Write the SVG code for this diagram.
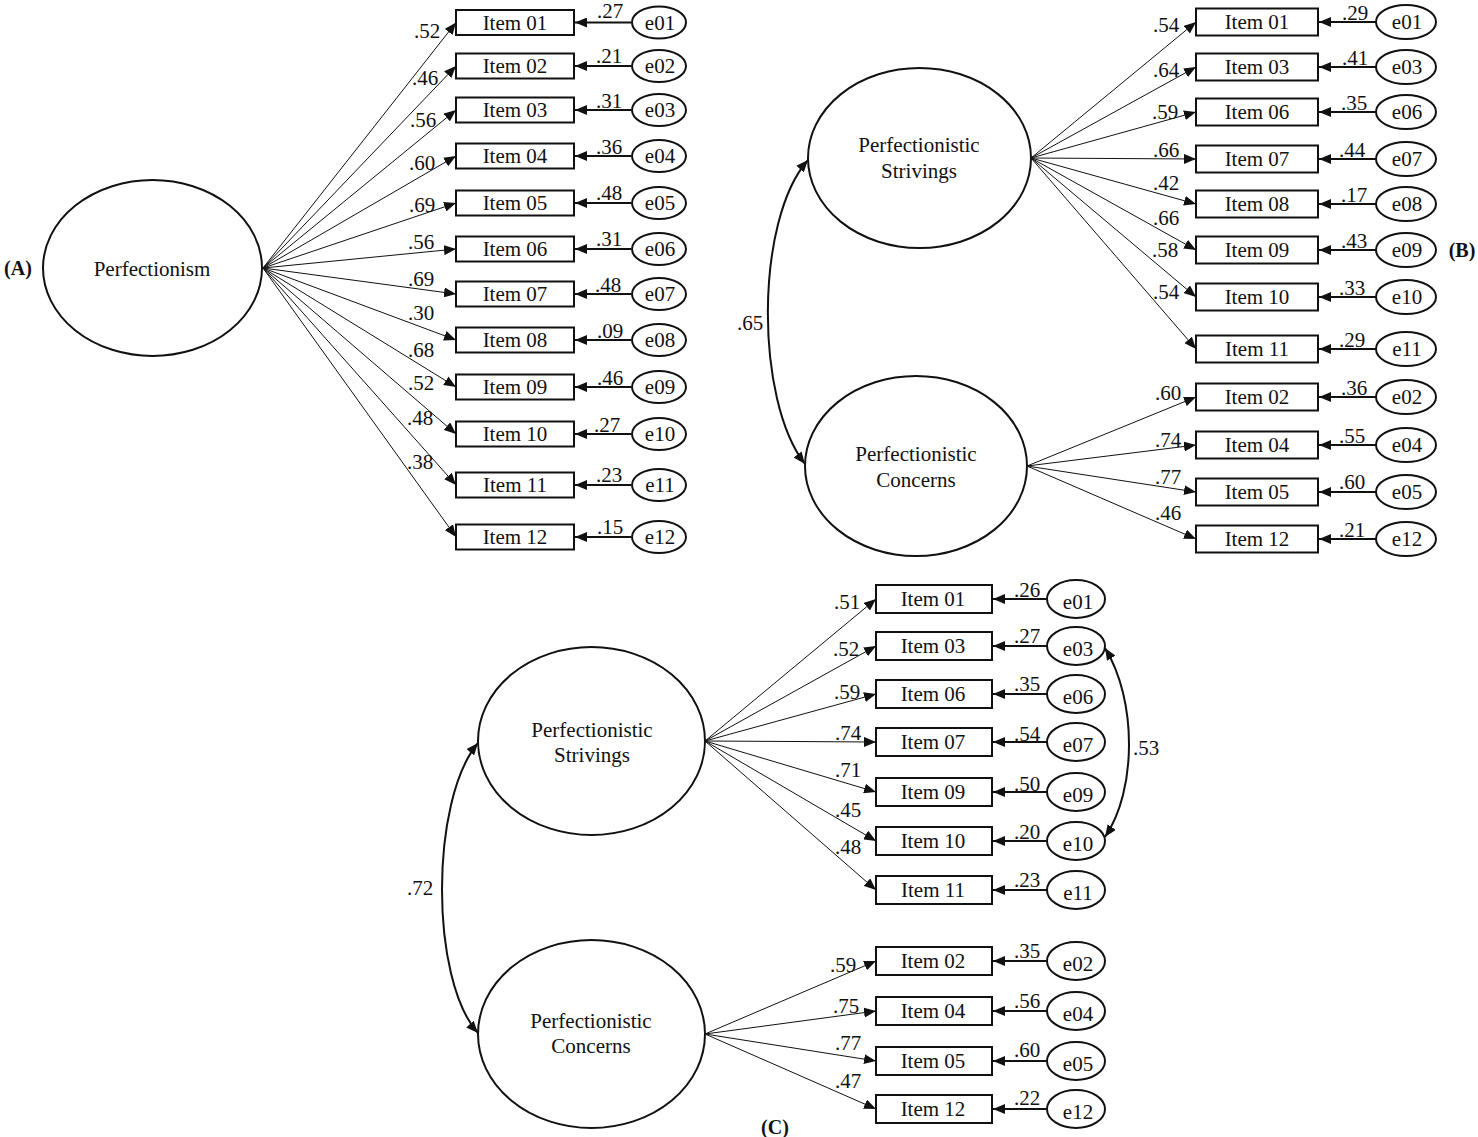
<svg xmlns="http://www.w3.org/2000/svg" width="1478" height="1137" viewBox="0 0 1478 1137">
<style>
text{font-family:"Liberation Serif","Times New Roman",serif;font-size:21px;fill:#111;text-anchor:middle}
.b{font-weight:bold;font-size:20px}
.lat,.err{fill:#fff;stroke:#111;stroke-width:2}
.box{fill:#fff;stroke:#111;stroke-width:2}
.ld{stroke:#111;stroke-width:1;fill:none;marker-end:url(#ah)}
.ea{stroke:#111;stroke-width:2;fill:none;marker-end:url(#ah)}
.cov{stroke:#111;stroke-width:2;fill:none;marker-end:url(#ah);marker-start:url(#ah)}
</style>
<defs>
<marker id="ah" markerUnits="userSpaceOnUse" markerWidth="12" markerHeight="10" refX="12" refY="5" orient="auto-start-reverse"><path d="M0,0 L12,5 L0,10 z" fill="#111"/></marker>
</defs>
<rect width="1478" height="1137" fill="#fff"/>

<g id="connectors">
<!-- Panel A loadings -->
<line class="ld" x1="263" y1="268" x2="456" y2="22.5"/>
<line class="ld" x1="263" y1="268" x2="456" y2="66"/>
<line class="ld" x1="263" y1="268" x2="456" y2="110"/>
<line class="ld" x1="263" y1="268" x2="456" y2="156"/>
<line class="ld" x1="263" y1="268" x2="456" y2="203"/>
<line class="ld" x1="263" y1="268" x2="456" y2="249"/>
<line class="ld" x1="263" y1="268" x2="456" y2="294"/>
<line class="ld" x1="263" y1="268" x2="456" y2="340"/>
<line class="ld" x1="263" y1="268" x2="456" y2="387"/>
<line class="ld" x1="263" y1="268" x2="456" y2="434"/>
<line class="ld" x1="263" y1="268" x2="456" y2="485"/>
<line class="ld" x1="263" y1="268" x2="456" y2="537"/>
<!-- Panel A errors -->
<line class="ea" x1="631" y1="22.5" x2="575" y2="22.5"/>
<line class="ea" x1="631" y1="66" x2="575" y2="66"/>
<line class="ea" x1="631" y1="110" x2="575" y2="110"/>
<line class="ea" x1="631" y1="156" x2="575" y2="156"/>
<line class="ea" x1="631" y1="203" x2="575" y2="203"/>
<line class="ea" x1="631" y1="249" x2="575" y2="249"/>
<line class="ea" x1="631" y1="294" x2="575" y2="294"/>
<line class="ea" x1="631" y1="340" x2="575" y2="340"/>
<line class="ea" x1="631" y1="387" x2="575" y2="387"/>
<line class="ea" x1="631" y1="434" x2="575" y2="434"/>
<line class="ea" x1="631" y1="485" x2="575" y2="485"/>
<line class="ea" x1="631" y1="537" x2="575" y2="537"/>
<!-- Panel B loadings -->
<line class="ld" x1="1031" y1="158" x2="1196" y2="22"/>
<line class="ld" x1="1031" y1="158" x2="1196" y2="67"/>
<line class="ld" x1="1031" y1="158" x2="1196" y2="112"/>
<line class="ld" x1="1031" y1="158" x2="1196" y2="159"/>
<line class="ld" x1="1031" y1="158" x2="1196" y2="204"/>
<line class="ld" x1="1031" y1="158" x2="1196" y2="250"/>
<line class="ld" x1="1031" y1="158" x2="1196" y2="297"/>
<line class="ld" x1="1031" y1="158" x2="1196" y2="349"/>
<line class="ld" x1="1027" y1="466" x2="1196" y2="397"/>
<line class="ld" x1="1027" y1="466" x2="1196" y2="445"/>
<line class="ld" x1="1027" y1="466" x2="1196" y2="492"/>
<line class="ld" x1="1027" y1="466" x2="1196" y2="539"/>
<!-- Panel B errors -->
<line class="ea" x1="1376" y1="22" x2="1319" y2="22"/>
<line class="ea" x1="1376" y1="67" x2="1319" y2="67"/>
<line class="ea" x1="1376" y1="112" x2="1319" y2="112"/>
<line class="ea" x1="1376" y1="159" x2="1319" y2="159"/>
<line class="ea" x1="1376" y1="204" x2="1319" y2="204"/>
<line class="ea" x1="1376" y1="250" x2="1319" y2="250"/>
<line class="ea" x1="1376" y1="297" x2="1319" y2="297"/>
<line class="ea" x1="1376" y1="349" x2="1319" y2="349"/>
<line class="ea" x1="1376" y1="397" x2="1319" y2="397"/>
<line class="ea" x1="1376" y1="445" x2="1319" y2="445"/>
<line class="ea" x1="1376" y1="492" x2="1319" y2="492"/>
<line class="ea" x1="1376" y1="539" x2="1319" y2="539"/>
<path class="cov" d="M808,160 C755,220 755,400 805,464"/>
<!-- Panel C loadings -->
<line class="ld" x1="705" y1="741" x2="876" y2="599"/>
<line class="ld" x1="705" y1="741" x2="876" y2="646"/>
<line class="ld" x1="705" y1="741" x2="876" y2="694"/>
<line class="ld" x1="705" y1="741" x2="876" y2="742"/>
<line class="ld" x1="705" y1="741" x2="876" y2="792"/>
<line class="ld" x1="705" y1="741" x2="876" y2="841"/>
<line class="ld" x1="705" y1="741" x2="876" y2="890"/>
<line class="ld" x1="705" y1="1034" x2="876" y2="961"/>
<line class="ld" x1="705" y1="1034" x2="876" y2="1011"/>
<line class="ld" x1="705" y1="1034" x2="876" y2="1061"/>
<line class="ld" x1="705" y1="1034" x2="876" y2="1109"/>
<!-- Panel C errors -->
<line class="ea" x1="1047" y1="599" x2="993" y2="599"/>
<line class="ea" x1="1047" y1="646" x2="993" y2="646"/>
<line class="ea" x1="1047" y1="694" x2="993" y2="694"/>
<line class="ea" x1="1047" y1="742" x2="993" y2="742"/>
<line class="ea" x1="1047" y1="792" x2="993" y2="792"/>
<line class="ea" x1="1047" y1="841" x2="993" y2="841"/>
<line class="ea" x1="1047" y1="890" x2="993" y2="890"/>
<line class="ea" x1="1047" y1="961" x2="993" y2="961"/>
<line class="ea" x1="1047" y1="1011" x2="993" y2="1011"/>
<line class="ea" x1="1047" y1="1061" x2="993" y2="1061"/>
<line class="ea" x1="1047" y1="1109" x2="993" y2="1109"/>
<path class="cov" d="M478,743 C430,800 430,980 478,1033"/>
<path class="cov" d="M1105,648 C1137,700 1137,790 1105,837"/>
</g>

<g id="edge-labels">
<text x="427" y="38">.52</text><text x="425" y="85">.46</text><text x="423" y="127">.56</text><text x="422" y="170">.60</text>
<text x="422" y="212">.69</text><text x="421" y="249">.56</text><text x="421" y="286">.69</text><text x="421" y="320">.30</text>
<text x="421" y="357">.68</text><text x="421" y="390">.52</text><text x="420" y="425">.48</text><text x="420" y="469">.38</text>
<text x="610" y="18">.27</text><text x="609" y="63">.21</text><text x="609" y="108">.31</text><text x="609" y="154">.36</text>
<text x="609" y="200">.48</text><text x="609" y="246">.31</text><text x="608" y="292">.48</text><text x="610" y="338">.09</text>
<text x="610" y="385">.46</text><text x="607" y="432">.27</text><text x="609" y="482">.23</text><text x="610" y="534">.15</text>

<text x="1166" y="32">.54</text><text x="1166" y="77">.64</text><text x="1165" y="119">.59</text><text x="1166" y="157">.66</text>
<text x="1166" y="190">.42</text><text x="1166" y="225">.66</text><text x="1165" y="257">.58</text><text x="1166" y="299">.54</text>
<text x="1168" y="400">.60</text><text x="1168" y="447">.74</text><text x="1168" y="484">.77</text><text x="1168" y="520">.46</text>
<text x="1355" y="20">.29</text><text x="1355" y="65">.41</text><text x="1354" y="110">.35</text><text x="1352" y="157">.44</text>
<text x="1354" y="202">.17</text><text x="1354" y="248">.43</text><text x="1352" y="295">.33</text><text x="1352" y="347">.29</text>
<text x="1354" y="395">.36</text><text x="1352" y="443">.55</text><text x="1352" y="489">.60</text><text x="1352" y="537">.21</text>
<text x="750" y="330">.65</text>

<text x="847" y="609">.51</text><text x="846" y="656">.52</text><text x="847" y="699">.59</text><text x="848" y="740">.74</text>
<text x="848" y="777">.71</text><text x="848" y="817">.45</text><text x="848" y="854">.48</text>
<text x="843" y="972">.59</text><text x="846" y="1013">.75</text><text x="848" y="1050">.77</text><text x="848" y="1088">.47</text>
<text x="1027" y="597">.26</text><text x="1027" y="643">.27</text><text x="1027" y="691">.35</text><text x="1027" y="741">.54</text>
<text x="1027" y="791">.50</text><text x="1027" y="839">.20</text><text x="1027" y="887">.23</text>
<text x="1027" y="958">.35</text><text x="1027" y="1008">.56</text><text x="1027" y="1057">.60</text><text x="1027" y="1105">.22</text>
<text x="420" y="895">.72</text>
<text x="1146" y="755">.53</text>
</g>

<g id="panel-labels">
<text class="b" x="18" y="275">(A)</text>
<text class="b" x="1462" y="257">(B)</text>
<text class="b" x="775" y="1134">(C)</text>
</g>

<!-- Panel A nodes -->
<g id="A-perfectionism"><ellipse class="lat" cx="152.5" cy="268" rx="109.5" ry="88"/><text x="152" y="276">Perfectionism</text></g>
<g id="A-item01"><rect class="box" x="456" y="10" width="118" height="25"/><text x="515" y="30">Item 01</text></g>
<g id="A-item02"><rect class="box" x="456" y="53.5" width="118" height="25"/><text x="515" y="73">Item 02</text></g>
<g id="A-item03"><rect class="box" x="456" y="97.5" width="118" height="25"/><text x="515" y="117">Item 03</text></g>
<g id="A-item04"><rect class="box" x="456" y="143.5" width="118" height="25"/><text x="515" y="163">Item 04</text></g>
<g id="A-item05"><rect class="box" x="456" y="190.5" width="118" height="25"/><text x="515" y="210">Item 05</text></g>
<g id="A-item06"><rect class="box" x="456" y="236.5" width="118" height="25"/><text x="515" y="256">Item 06</text></g>
<g id="A-item07"><rect class="box" x="456" y="281.5" width="118" height="25"/><text x="515" y="301">Item 07</text></g>
<g id="A-item08"><rect class="box" x="456" y="327.5" width="118" height="25"/><text x="515" y="347">Item 08</text></g>
<g id="A-item09"><rect class="box" x="456" y="374.5" width="118" height="25"/><text x="515" y="394">Item 09</text></g>
<g id="A-item10"><rect class="box" x="456" y="421.5" width="118" height="25"/><text x="515" y="441">Item 10</text></g>
<g id="A-item11"><rect class="box" x="456" y="472.5" width="118" height="25"/><text x="515" y="492">Item 11</text></g>
<g id="A-item12"><rect class="box" x="456" y="524.5" width="118" height="25"/><text x="515" y="544">Item 12</text></g>
<g id="A-e01"><ellipse class="err" cx="659" cy="22.5" rx="27" ry="16"/><text x="660" y="30">e01</text></g>
<g id="A-e02"><ellipse class="err" cx="659" cy="66" rx="27" ry="16"/><text x="660" y="73">e02</text></g>
<g id="A-e03"><ellipse class="err" cx="659" cy="110" rx="27" ry="16"/><text x="660" y="117">e03</text></g>
<g id="A-e04"><ellipse class="err" cx="659" cy="156" rx="27" ry="16"/><text x="660" y="163">e04</text></g>
<g id="A-e05"><ellipse class="err" cx="659" cy="203" rx="27" ry="16"/><text x="660" y="210">e05</text></g>
<g id="A-e06"><ellipse class="err" cx="659" cy="249" rx="27" ry="16"/><text x="660" y="256">e06</text></g>
<g id="A-e07"><ellipse class="err" cx="659" cy="294" rx="27" ry="16"/><text x="660" y="301">e07</text></g>
<g id="A-e08"><ellipse class="err" cx="659" cy="340" rx="27" ry="16"/><text x="660" y="347">e08</text></g>
<g id="A-e09"><ellipse class="err" cx="659" cy="387" rx="27" ry="16"/><text x="660" y="394">e09</text></g>
<g id="A-e10"><ellipse class="err" cx="659" cy="434" rx="27" ry="16"/><text x="660" y="441">e10</text></g>
<g id="A-e11"><ellipse class="err" cx="659" cy="485" rx="27" ry="16"/><text x="660" y="492">e11</text></g>
<g id="A-e12"><ellipse class="err" cx="659" cy="537" rx="27" ry="16"/><text x="660" y="544">e12</text></g>

<!-- Panel B nodes -->
<g id="B-strivings"><ellipse class="lat" cx="919.5" cy="158" rx="111.5" ry="90"/><text x="919" y="152">Perfectionistic</text><text x="919" y="178">Strivings</text></g>
<g id="B-concerns"><ellipse class="lat" cx="916" cy="466" rx="111" ry="90"/><text x="916" y="461">Perfectionistic</text><text x="916" y="487">Concerns</text></g>
<g id="B-item01"><rect class="box" x="1196" y="8.5" width="122" height="27"/><text x="1257" y="29">Item 01</text></g>
<g id="B-item03"><rect class="box" x="1196" y="53.5" width="122" height="27"/><text x="1257" y="74">Item 03</text></g>
<g id="B-item06"><rect class="box" x="1196" y="98.5" width="122" height="27"/><text x="1257" y="119">Item 06</text></g>
<g id="B-item07"><rect class="box" x="1196" y="145.5" width="122" height="27"/><text x="1257" y="166">Item 07</text></g>
<g id="B-item08"><rect class="box" x="1196" y="190.5" width="122" height="27"/><text x="1257" y="211">Item 08</text></g>
<g id="B-item09"><rect class="box" x="1196" y="236.5" width="122" height="27"/><text x="1257" y="257">Item 09</text></g>
<g id="B-item10"><rect class="box" x="1196" y="283.5" width="122" height="27"/><text x="1257" y="304">Item 10</text></g>
<g id="B-item11"><rect class="box" x="1196" y="335.5" width="122" height="27"/><text x="1257" y="356">Item 11</text></g>
<g id="B-item02"><rect class="box" x="1196" y="383.5" width="122" height="27"/><text x="1257" y="404">Item 02</text></g>
<g id="B-item04"><rect class="box" x="1196" y="431.5" width="122" height="27"/><text x="1257" y="452">Item 04</text></g>
<g id="B-item05"><rect class="box" x="1196" y="478.5" width="122" height="27"/><text x="1257" y="499">Item 05</text></g>
<g id="B-item12"><rect class="box" x="1196" y="525.5" width="122" height="27"/><text x="1257" y="546">Item 12</text></g>
<g id="B-e01"><ellipse class="err" cx="1406" cy="22" rx="30" ry="17"/><text x="1407" y="29">e01</text></g>
<g id="B-e03"><ellipse class="err" cx="1406" cy="67" rx="30" ry="17"/><text x="1407" y="74">e03</text></g>
<g id="B-e06"><ellipse class="err" cx="1406" cy="112" rx="30" ry="17"/><text x="1407" y="119">e06</text></g>
<g id="B-e07"><ellipse class="err" cx="1406" cy="159" rx="30" ry="17"/><text x="1407" y="166">e07</text></g>
<g id="B-e08"><ellipse class="err" cx="1406" cy="204" rx="30" ry="17"/><text x="1407" y="211">e08</text></g>
<g id="B-e09"><ellipse class="err" cx="1406" cy="250" rx="30" ry="17"/><text x="1407" y="257">e09</text></g>
<g id="B-e10"><ellipse class="err" cx="1406" cy="297" rx="30" ry="17"/><text x="1407" y="304">e10</text></g>
<g id="B-e11"><ellipse class="err" cx="1406" cy="349" rx="30" ry="17"/><text x="1407" y="356">e11</text></g>
<g id="B-e02"><ellipse class="err" cx="1406" cy="397" rx="30" ry="17"/><text x="1407" y="404">e02</text></g>
<g id="B-e04"><ellipse class="err" cx="1406" cy="445" rx="30" ry="17"/><text x="1407" y="452">e04</text></g>
<g id="B-e05"><ellipse class="err" cx="1406" cy="492" rx="30" ry="17"/><text x="1407" y="499">e05</text></g>
<g id="B-e12"><ellipse class="err" cx="1406" cy="539" rx="30" ry="17"/><text x="1407" y="546">e12</text></g>

<!-- Panel C nodes -->
<g id="C-strivings"><ellipse class="lat" cx="591.5" cy="741" rx="113.5" ry="94"/><text x="592" y="737">Perfectionistic</text><text x="592" y="762">Strivings</text></g>
<g id="C-concerns"><ellipse class="lat" cx="591.5" cy="1034" rx="113.5" ry="94"/><text x="591" y="1028">Perfectionistic</text><text x="591" y="1053">Concerns</text></g>
<g id="C-item01"><rect class="box" x="876" y="585" width="116" height="28"/><text x="933" y="606">Item 01</text></g>
<g id="C-item03"><rect class="box" x="876" y="632" width="116" height="28"/><text x="933" y="653">Item 03</text></g>
<g id="C-item06"><rect class="box" x="876" y="680" width="116" height="28"/><text x="933" y="701">Item 06</text></g>
<g id="C-item07"><rect class="box" x="876" y="728" width="116" height="28"/><text x="933" y="749">Item 07</text></g>
<g id="C-item09"><rect class="box" x="876" y="778" width="116" height="28"/><text x="933" y="799">Item 09</text></g>
<g id="C-item10"><rect class="box" x="876" y="827" width="116" height="28"/><text x="933" y="848">Item 10</text></g>
<g id="C-item11"><rect class="box" x="876" y="876" width="116" height="28"/><text x="933" y="897">Item 11</text></g>
<g id="C-item02"><rect class="box" x="876" y="947" width="116" height="28"/><text x="933" y="968">Item 02</text></g>
<g id="C-item04"><rect class="box" x="876" y="997" width="116" height="28"/><text x="933" y="1018">Item 04</text></g>
<g id="C-item05"><rect class="box" x="876" y="1047" width="116" height="28"/><text x="933" y="1068">Item 05</text></g>
<g id="C-item12"><rect class="box" x="876" y="1095" width="116" height="28"/><text x="933" y="1116">Item 12</text></g>
<g id="C-e01"><ellipse class="err" cx="1076" cy="599" rx="29" ry="19"/><text x="1078" y="609">e01</text></g>
<g id="C-e03"><ellipse class="err" cx="1076" cy="646" rx="29" ry="19"/><text x="1078" y="656">e03</text></g>
<g id="C-e06"><ellipse class="err" cx="1076" cy="694" rx="29" ry="19"/><text x="1078" y="704">e06</text></g>
<g id="C-e07"><ellipse class="err" cx="1076" cy="742" rx="29" ry="19"/><text x="1078" y="752">e07</text></g>
<g id="C-e09"><ellipse class="err" cx="1076" cy="792" rx="29" ry="19"/><text x="1078" y="802">e09</text></g>
<g id="C-e10"><ellipse class="err" cx="1076" cy="841" rx="29" ry="19"/><text x="1078" y="851">e10</text></g>
<g id="C-e11"><ellipse class="err" cx="1076" cy="890" rx="29" ry="19"/><text x="1078" y="900">e11</text></g>
<g id="C-e02"><ellipse class="err" cx="1076" cy="961" rx="29" ry="19"/><text x="1078" y="971">e02</text></g>
<g id="C-e04"><ellipse class="err" cx="1076" cy="1011" rx="29" ry="19"/><text x="1078" y="1021">e04</text></g>
<g id="C-e05"><ellipse class="err" cx="1076" cy="1061" rx="29" ry="19"/><text x="1078" y="1071">e05</text></g>
<g id="C-e12"><ellipse class="err" cx="1076" cy="1109" rx="29" ry="19"/><text x="1078" y="1119">e12</text></g>
</svg>
